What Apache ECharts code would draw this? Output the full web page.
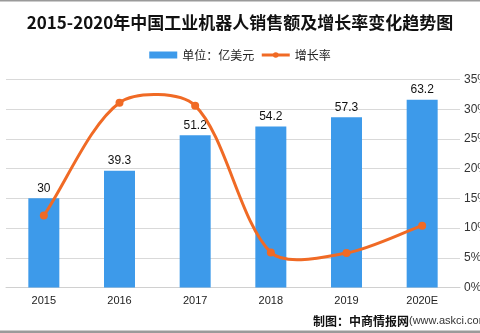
<!DOCTYPE html>
<html><head><meta charset="utf-8">
<script src="https://cdn.jsdelivr.net/npm/echarts@6/dist/echarts.min.js"></script>
<style>html,body{margin:0;padding:0;background:#fff}#c{width:480px;height:333px}</style>
</head><body><div id="c"></div>
<script>
var categories = ['2015','2016','2017','2018','2019','2020E'];
var sales = [30, 39.3, 51.2, 54.2, 57.3, 63.2];
var growth = [12.1, 31.1, 30.6, 5.9, 5.8, 10.4];
var titleText = '2015-2020年中国工业机器人销售额及增长率变化趋势图';
var salesName = '单位：亿美元';
var growthName = '增长率';

var cjk = '"Noto Sans CJK SC", sans-serif';
var lineColor = '#f06a25';

function curveItem(params, api) {
  if (params.dataIndex !== 0) return null;
  var pts = [];
  for (var i = 0; i < growth.length; i++) pts.push(api.coord([i, growth[i]]));
  var s = 0.3;
  var d = 'M' + pts[0][0] + ' ' + pts[0][1];
  function dist(a, b) { return Math.sqrt((a[0]-b[0])*(a[0]-b[0]) + (a[1]-b[1])*(a[1]-b[1])); }
  for (var j = 0; j < pts.length - 1; j++) {
    var p0 = pts[j - 1] || pts[j], p1 = pts[j], p2 = pts[j + 1], p3 = pts[j + 2] || pts[j + 1];
    var d01 = dist(p0, p1), d12 = dist(p1, p2), d23 = dist(p2, p3);
    var f1 = s * d12 / (d01 + d12), f2 = s * d12 / (d12 + d23);
    var c1 = [p1[0] + (p2[0] - p0[0]) * f1, p1[1] + (p2[1] - p0[1]) * f1];
    var c2 = [p2[0] - (p3[0] - p1[0]) * f2, p2[1] - (p3[1] - p1[1]) * f2];
    d += ' C' + c1[0] + ' ' + c1[1] + ' ' + c2[0] + ' ' + c2[1] + ' ' + p2[0] + ' ' + p2[1];
  }
  return {type: 'path', shape: {pathData: d}, style: {fill: 'none', stroke: lineColor, lineWidth: 3}};
}

var chart = echarts.init(document.getElementById('c'));
chart.setOption({
  animation: false,
  backgroundColor: '#fff',
  title: {
    text: titleText, left: 'center', top: 9,
    textStyle: {fontFamily: cjk, fontSize: 17, fontWeight: 'bold', color: '#111'}
  },
  legend: {
    top: 44, left: 'center', itemGap: 6, itemWidth: 28, itemHeight: 7,
    textStyle: {fontFamily: cjk, fontSize: 12, color: '#222'},
    data: [{name: salesName, icon: 'rect'},
           {name: growthName, lineStyle: {opacity: 1, width: 3, color: lineColor}}]
  },
  grid: {left: 6, right: 20, top: 79.5, bottom: 45.5, containLabel: false, outerBoundsMode: 'none'},
  xAxis: {
    type: 'category', data: categories,
    axisLine: {lineStyle: {color: '#d0d0d0'}},
    axisTick: {show: false},
    axisLabel: {color: '#222', fontSize: 11, margin: 8, fontFamily: 'Liberation Sans, sans-serif'}
  },
  yAxis: [
    {type: 'value', min: 0, max: 70, interval: 10, show: false, splitLine: {show: false}},
    {type: 'value', position: 'right', min: 0, max: 35, interval: 5,
     axisLine: {show: false}, axisTick: {show: false},
     axisLabel: {formatter: '{value}%', color: '#333', fontSize: 12, margin: 4, fontFamily: 'Liberation Sans, sans-serif'},
     splitLine: {lineStyle: {color: '#d9d9d9'}}}
  ],
  series: [
    {name: salesName, type: 'bar', yAxisIndex: 0, data: sales, barWidth: 31,
     itemStyle: {color: '#3d9aea'},
     label: {show: true, position: 'top', color: '#111', fontSize: 12, distance: 4, fontFamily: 'Liberation Sans, sans-serif'}},
    {name: growthName + '_curve', type: 'custom', yAxisIndex: 1, data: growth,
     renderItem: curveItem, z: 3, silent: true},
    {name: growthName, type: 'line', yAxisIndex: 1, data: growth, z: 4,
     symbol: 'circle', symbolSize: 8,
     lineStyle: {color: lineColor, width: 3, opacity: 0},
     itemStyle: {color: lineColor}}
  ],
  graphic: [
    {type: 'rect', shape: {x: 0, y: 0, width: 480, height: 1.5}, style: {fill: '#9a9a9a'}},
    {type: 'rect', shape: {x: 0, y: 330.5, width: 480, height: 2.5}, style: {fill: '#9a9a9a'}},
    {type: 'text', left: 313, top: 315,
     style: {text: '{a|制图：中商情报网}{b|(www.askci.com)}',
       rich: {a: {fontFamily: cjk, fontSize: 12, fontWeight: 'bold', fill: '#111', color: '#111'},
              b: {fontFamily: 'Liberation Sans, sans-serif', fontSize: 11, fill: '#333', color: '#333'}}}}
  ]
});
</script></body></html>
